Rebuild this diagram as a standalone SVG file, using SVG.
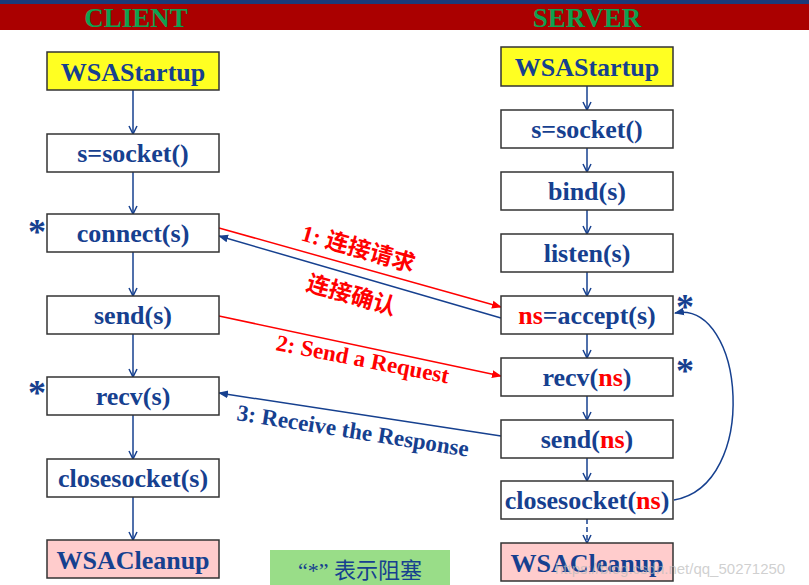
<svg xmlns="http://www.w3.org/2000/svg" width="809" height="585" viewBox="0 0 809 585">
<defs>
<style>
.b{fill:#fff;stroke:#333;stroke-width:1.5}
.y{fill:#ffff22;stroke:#333;stroke-width:1.5}
.p{fill:#ffcccc;stroke:#333;stroke-width:1.5}
.t{font-family:"Liberation Serif",serif;font-weight:bold;font-size:26px;fill:#16408f;text-anchor:middle}
.r{fill:#ff0000}
.v{stroke:#16408f;stroke-width:1.5;fill:none;marker-end:url(#ab)}
.l{font-family:"Liberation Serif","Noto Sans CJK SC",serif;font-weight:bold;font-size:23px}
.s{font-family:"Liberation Serif",serif;font-weight:bold;font-size:36px;fill:#16408f}
</style>
<marker id="ab" viewBox="0 0 10 10" refX="9" refY="5" markerWidth="10" markerHeight="10" orient="auto" markerUnits="userSpaceOnUse"><path d="M1,1 L9,5 L1,9" fill="none" stroke="#16408f" stroke-width="1.5"/></marker>
<marker id="ar" viewBox="0 0 10 10" refX="9" refY="5" markerWidth="10" markerHeight="10" orient="auto" markerUnits="userSpaceOnUse"><path d="M0,1 L10,5 L0,9 z" fill="#ff0000"/></marker>
<marker id="abf" viewBox="0 0 10 10" refX="9" refY="5" markerWidth="10" markerHeight="10" orient="auto" markerUnits="userSpaceOnUse"><path d="M0,1 L10,5 L0,9 z" fill="#16408f"/></marker>
</defs>
<rect width="809" height="585" fill="#fff"/>
<rect x="0" y="0" width="809" height="4" fill="#1a3a7a"/>
<rect x="0" y="4" width="809" height="26" fill="#aa0000"/>
<text x="136" y="27" font-family="Liberation Serif,serif" font-weight="bold" font-size="27" fill="#10a050" text-anchor="middle">CLIENT</text>
<text x="587" y="27" font-family="Liberation Serif,serif" font-weight="bold" font-size="27" fill="#10a050" text-anchor="middle">SERVER</text>
<g id="connectors">
<path class="v" d="M133 90V134"/><path class="v" d="M133 172V214"/><path class="v" d="M133 252V296"/><path class="v" d="M133 334V377"/><path class="v" d="M133 415V459"/><path class="v" d="M133 497V540"/>
<path class="v" d="M587 86V110"/><path class="v" d="M587 148V172"/><path class="v" d="M587 210V234"/><path class="v" d="M587 272V296"/><path class="v" d="M587 334V358"/><path class="v" d="M587 396V420"/><path class="v" d="M587 458V481"/>
<path class="v" d="M587 519V543" stroke-dasharray="5,3"/>
<path d="M219 228L501 307" stroke="#ff0000" stroke-width="1.5" marker-end="url(#ar)"/>
<path d="M501 318L219 236" stroke="#16408f" stroke-width="1.5" marker-end="url(#abf)"/>
<path d="M219 316L501 376" stroke="#ff0000" stroke-width="1.5" marker-end="url(#ar)"/>
<path d="M501 436L219 393" stroke="#16408f" stroke-width="1.5" marker-end="url(#abf)"/>
<path d="M674 500C760 485 745 300 675 313" stroke="#16408f" stroke-width="1.5" fill="none" marker-end="url(#abf)"/>
</g>
<text class="l" fill="#ff0000" transform="translate(300 240) rotate(16)">1:  连接请求</text>
<text class="l" fill="#ff0000" transform="translate(305 290) rotate(16)">连接确认</text>
<text class="l" fill="#ff0000" transform="translate(275 350) rotate(11)">2: Send a Request</text>
<text class="l" fill="#16408f" transform="translate(236 420) rotate(9)">3: Receive the Response</text>
<g id="c1"><rect class="y" x="47" y="52" width="172" height="38"/><text class="t" x="133" y="81">WSAStartup</text></g>
<g id="c2"><rect class="b" x="47" y="134" width="172" height="38"/><text class="t" x="133" y="162">s=socket()</text></g>
<g id="c3"><rect class="b" x="47" y="214" width="172" height="38"/><text class="t" x="133" y="242">connect(s)</text></g>
<g id="c4"><rect class="b" x="47" y="296" width="172" height="38"/><text class="t" x="133" y="324">send(s)</text></g>
<g id="c5"><rect class="b" x="47" y="377" width="172" height="38"/><text class="t" x="133" y="405">recv(s)</text></g>
<g id="c6"><rect class="b" x="47" y="459" width="172" height="38"/><text class="t" x="133" y="487">closesocket(s)</text></g>
<g id="c7"><rect class="p" x="47" y="540" width="172" height="38"/><text class="t" x="133" y="569">WSACleanup</text></g>
<g id="s1"><rect class="y" x="501" y="47" width="172" height="39"/><text class="t" x="587" y="76">WSAStartup</text></g>
<g id="s2"><rect class="b" x="501" y="110" width="172" height="38"/><text class="t" x="587" y="138">s=socket()</text></g>
<g id="s3"><rect class="b" x="501" y="172" width="172" height="38"/><text class="t" x="587" y="200">bind(s)</text></g>
<g id="s4"><rect class="b" x="501" y="234" width="172" height="38"/><text class="t" x="587" y="262">listen(s)</text></g>
<g id="s5"><rect class="b" x="501" y="296" width="172" height="38"/><text class="t" x="587" y="324"><tspan class="r">ns</tspan>=accept(s)</text></g>
<g id="s6"><rect class="b" x="501" y="358" width="172" height="38"/><text class="t" x="587" y="386">recv(<tspan class="r">ns</tspan>)</text></g>
<g id="s7"><rect class="b" x="501" y="420" width="172" height="38"/><text class="t" x="587" y="448">send(<tspan class="r">ns</tspan>)</text></g>
<g id="s8"><rect class="b" x="501" y="481" width="172" height="38"/><text class="t" x="587" y="509">closesocket(<tspan class="r">ns</tspan>)</text></g>
<g id="s9"><rect class="p" x="501" y="543" width="172" height="38"/><text class="t" x="587" y="572">WSACleanup</text></g>
<text class="s" x="28" y="244">*</text>
<text class="s" x="28" y="405">*</text>
<text class="s" x="676" y="319">*</text>
<text class="s" x="676" y="383">*</text>
<g id="legend"><rect x="270" y="550" width="180" height="35" fill="#99dd88"/><text x="360" y="578" font-family="Liberation Serif,'Noto Sans CJK SC',serif" font-size="22" fill="#16408f" text-anchor="middle">“*”  表示阻塞</text></g>
<text x="555" y="574" font-family="Liberation Sans,sans-serif" font-size="15" fill="#bbbbbb" fill-opacity="0.7">https://blog.csdn.net/qq_50271250</text>
</svg>
